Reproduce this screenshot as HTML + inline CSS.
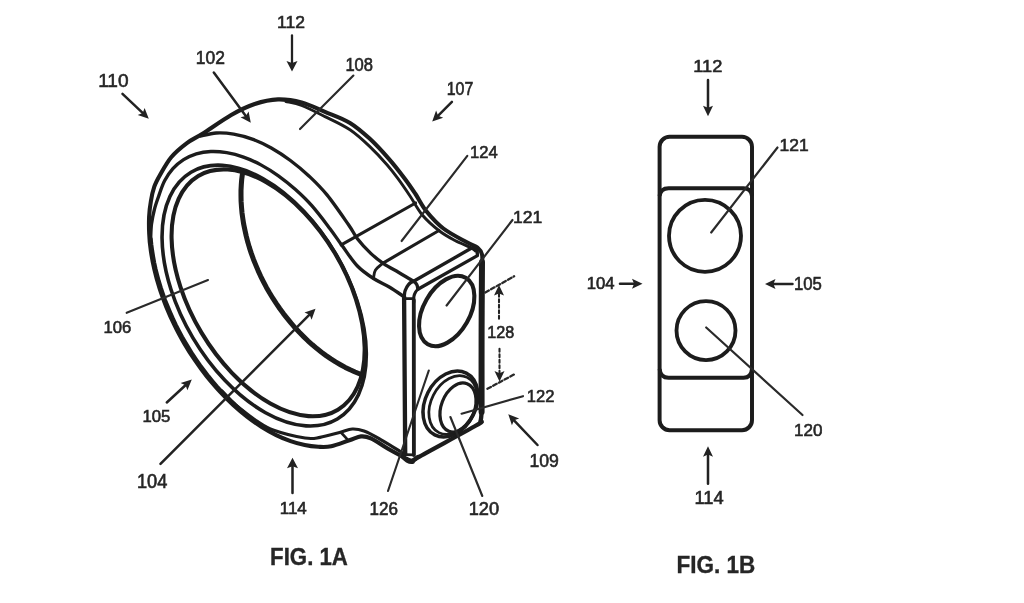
<!DOCTYPE html>
<html><head><meta charset="utf-8"><style>
html,body{margin:0;padding:0;background:#fff;width:1024px;height:603px;overflow:hidden}
svg{display:block;will-change:transform}
text{font-family:"Liberation Sans",sans-serif}
</style></head><body>
<svg width="1024" height="603" viewBox="0 0 1024 603">
<rect width="1024" height="603" fill="#ffffff"/>
<path d="M417.8 457.0 C416.8 457.6 414.4 460.9 412.0 460.9 C409.6 460.9 407.1 459.0 403.2 457.0 C399.3 455.0 393.9 452.2 388.5 449.1 C383.1 446.0 375.5 440.5 370.9 438.4 C366.3 436.3 364.6 436.1 361.0 436.4 C357.4 436.7 354.4 438.7 349.4 440.3 C344.4 441.9 336.4 445.2 331.2 446.3 C326.0 447.4 322.7 447.0 318.3 446.8 C313.9 446.6 309.3 446.1 304.7 445.1 C300.1 444.2 295.4 442.9 290.6 441.2 C285.8 439.5 281.0 437.5 276.2 435.1 C271.4 432.8 266.5 430.0 261.7 427.0 C256.9 423.9 252.0 420.6 247.3 416.9 C242.5 413.2 237.8 409.2 233.2 405.0 C228.6 400.7 224.1 396.2 219.7 391.4 C215.3 386.7 211.0 381.6 206.8 376.5 C202.7 371.3 198.7 365.8 194.9 360.2 C191.1 354.7 187.5 348.9 184.1 343.1 C180.7 337.2 177.4 331.2 174.5 325.1 C171.5 319.1 168.7 312.9 166.2 306.7 C163.8 300.5 161.5 294.3 159.5 288.1 C157.5 281.9 155.8 275.7 154.4 269.5 C152.9 263.4 151.8 257.3 150.9 251.3 C150.0 245.3 149.4 239.4 149.2 233.6 C148.9 227.9 148.9 222.2 149.1 216.8 C149.4 211.4 150.0 206.1 150.9 201.1 C151.7 196.1 152.8 191.1 154.3 186.7 C155.8 182.4 157.2 179.9 160.0 175.0 C162.8 170.1 166.8 162.5 171.2 157.2 C175.7 151.9 181.7 147.0 186.9 143.1 C192.1 139.2 195.1 138.4 202.5 133.8 C209.9 129.1 222.6 120.0 231.2 115.0 C239.9 110.0 246.9 106.6 254.7 104.0 C262.5 101.4 270.2 99.7 278.0 99.4 C285.8 99.2 293.8 100.4 301.6 102.5 C309.4 104.6 316.9 108.5 325.0 111.9 C333.1 115.3 342.6 118.5 350.0 122.9 C357.4 127.4 363.1 132.6 369.6 138.6 C376.1 144.6 383.2 152.4 389.1 159.1 C395.0 165.8 400.4 172.9 404.8 178.7 C409.2 184.5 411.9 188.6 415.5 194.0 C419.1 199.4 421.6 205.2 426.2 211.0 C430.9 216.8 436.6 223.3 443.4 228.5 C450.2 233.7 461.2 239.1 466.9 242.3 C472.6 245.5 475.0 245.5 477.5 247.5 C480.0 249.5 481.2 251.6 482.0 254.5 C482.8 257.4 482.0 263.2 482.0 265.0" stroke="#1c1c1c" stroke-width="4.08" fill="none" stroke-linecap="round" stroke-linejoin="round"/>
<path d="M151.2 238.8 L151.8 244.7 L152.6 250.6 L153.6 256.7 L154.7 262.8 L156.0 268.9 L157.6 275.1 L159.3 281.3 L161.2 287.5 L163.3 293.7 L165.5 300.0 L168.0 306.2 L170.6 312.4 L173.3 318.5 L176.2 324.6 L179.3 330.7 L182.5 336.7 L185.9 342.6 L189.4 348.4 L193.0 354.2 L196.8 359.8 L200.7 365.4 L204.7 370.8 L208.8 376.1 L213.0 381.2 L217.3 386.2 L221.7 391.0 L226.2 395.7 L230.7 400.2 L235.3 404.5 L240.0 408.6 L244.7 412.6" stroke="#1c1c1c" stroke-width="3.12" fill="none" stroke-linecap="round" stroke-linejoin="round"/>
<path d="M286.0 101.5 C288.6 102.2 295.1 103.0 301.6 105.5 C308.1 108.0 316.9 112.5 325.0 116.6 C333.1 120.6 342.6 124.8 350.0 129.8 C357.4 134.8 363.4 140.5 369.6 146.4 C375.8 152.3 382.5 159.6 387.2 165.0 C391.9 170.4 394.2 173.5 398.0 178.7 C401.8 183.9 405.9 189.9 410.0 196.0 C414.1 202.1 417.4 209.2 422.3 215.0 C427.2 220.8 434.1 226.8 439.5 231.0 C444.9 235.2 449.8 237.7 455.0 240.5 C460.2 243.3 467.4 245.8 470.8 247.6 C474.2 249.3 474.7 250.4 475.5 251.0" stroke="#1c1c1c" stroke-width="2.88" fill="none" stroke-linecap="round" stroke-linejoin="round"/>
<path d="M222.0 391.0 C223.5 392.6 228.0 397.6 231.0 400.5 C234.0 403.4 235.8 405.2 240.0 408.5 C244.2 411.8 250.4 416.9 256.0 420.5 C261.6 424.1 265.6 427.4 273.8 430.3 C281.9 433.2 297.3 436.8 305.0 438.0 C312.7 439.2 314.2 438.3 320.0 437.4 C325.8 436.5 334.2 433.9 339.6 432.5 C345.0 431.1 348.2 429.2 352.3 429.0 C356.4 428.8 359.6 429.4 364.0 431.0 C368.4 432.6 372.5 434.9 378.7 438.4 C384.9 441.9 396.8 449.4 401.2 452.0 C405.6 454.6 404.4 453.7 405.0 454.0" stroke="#1c1c1c" stroke-width="3.12" fill="none" stroke-linecap="round" stroke-linejoin="round"/>
<path d="M200.3 136.0 C203.0 135.5 210.7 133.4 216.2 133.0 C221.8 132.7 227.7 133.1 233.7 134.1 C239.7 135.1 245.9 136.8 252.2 139.1 C258.4 141.4 264.9 144.4 271.3 148.0 C277.6 151.6 284.1 155.8 290.4 160.5 C296.7 165.2 303.1 170.5 309.2 176.2 C315.3 182.0 320.4 186.8 327.0 194.9 C333.6 203.0 343.6 217.7 348.7 225.0 C353.8 232.3 353.7 233.9 357.4 238.7 C361.1 243.5 366.6 249.4 371.0 253.6 C375.4 257.8 378.9 260.5 383.5 263.6 C388.1 266.7 393.4 269.4 398.4 272.3 C403.4 275.2 410.8 279.6 413.3 281.0" stroke="#1c1c1c" stroke-width="3.36" fill="none" stroke-linecap="round" stroke-linejoin="round"/>
<path d="M150.6 240.0 C150.8 237.3 150.8 229.2 151.5 224.0 C152.2 218.8 153.3 213.7 154.5 209.0 C155.7 204.3 157.2 200.2 158.9 195.5 C160.5 190.8 162.3 185.2 164.6 180.8 C166.9 176.3 169.7 172.3 172.9 168.7 C176.1 165.2 179.7 162.2 183.6 159.7 C187.5 157.3 191.8 155.3 196.3 153.9 C200.8 152.6 205.7 151.8 210.8 151.5 C215.8 151.3 221.2 151.7 226.7 152.6 C232.1 153.5 237.8 155.0 243.5 157.1 C249.2 159.1 255.1 161.7 260.9 164.9 C266.7 168.0 272.6 171.7 278.4 175.8 C284.1 179.9 289.9 184.5 295.5 189.5 C301.1 194.5 306.1 199.1 311.8 205.7 C317.6 212.2 324.9 222.0 330.0 228.7 C335.1 235.4 337.8 239.9 342.4 246.1 C347.0 252.3 352.2 260.6 357.4 266.0 C362.6 271.4 368.1 275.0 373.5 278.5 C378.9 282.0 384.5 284.1 389.7 287.2 C394.9 290.3 402.1 295.5 404.6 297.1" stroke="#1c1c1c" stroke-width="3.36" fill="none" stroke-linecap="round" stroke-linejoin="round"/>
<ellipse cx="264.18" cy="295.62" rx="143.47" ry="82.85" transform="rotate(-120.66 264.18 295.62)" stroke="#1c1c1c" stroke-width="3.60" fill="none"/>
<ellipse cx="268.11" cy="292.80" rx="77.67" ry="136.11" transform="rotate(-30.87 268.11 292.80)" stroke="#1c1c1c" stroke-width="4.08" fill="none"/>
<path d="M242.4 174.2 L241.7 179.5 L241.3 184.8 L241.0 190.3 L241.0 195.8 L241.1 201.4 L241.5 207.1 L242.0 212.8 L242.8 218.5 L243.7 224.3 L244.9 230.1 L246.2 235.9 L247.7 241.8 L249.4 247.6 L251.3 253.4 L253.4 259.2 L255.7 264.9 L258.1 270.6 L260.7 276.3 L263.5 281.9 L266.4 287.4 L269.5 292.8 L272.8 298.2 L276.2 303.4 L279.7 308.5 L283.4 313.6 L287.2 318.4 L291.1 323.2 L295.1 327.8 L299.3 332.3 L303.6 336.6 L307.9 340.8 L312.4 344.8 L316.9 348.6 L321.5 352.2 L326.1 355.6 L330.9 358.9 L335.6 361.9 L340.5 364.7 L345.3 367.4 L350.2 369.8 L355.1 372.0 L360.0 374.0" stroke="#1c1c1c" stroke-width="5.04" fill="none" stroke-linecap="round" stroke-linejoin="round"/>
<path d="M482.0 262.0 C481.9 273.3 481.7 305.0 481.6 330.0 C481.5 355.0 481.6 398.3 481.6 412.0" stroke="#1c1c1c" stroke-width="6.00" fill="none" stroke-linecap="round" stroke-linejoin="round"/>
<path d="M481.6 412.0 C481.4 413.5 481.4 418.8 480.5 421.0 C479.6 423.2 486.4 419.4 476.0 425.5 C465.6 431.6 428.6 451.3 418.0 457.4 C407.4 463.4 414.3 461.3 412.5 461.8 C410.7 462.3 409.1 461.7 407.2 460.6 C405.3 459.5 402.0 455.9 401.0 455.0" stroke="#1c1c1c" stroke-width="4.32" fill="none" stroke-linecap="round" stroke-linejoin="round"/>
<line x1="405.6" y1="454.6" x2="413.9" y2="454.9" stroke="#1c1c1c" stroke-width="2.64" stroke-linecap="round"/>
<path d="M404.1 298.0 C404.3 324.0 405.0 428.0 405.2 454.0" stroke="#1c1c1c" stroke-width="4.32" fill="none" stroke-linecap="round" stroke-linejoin="round"/>
<path d="M413.8 300.0 C413.8 325.8 413.9 429.2 413.9 455.0" stroke="#1c1c1c" stroke-width="3.84" fill="none" stroke-linecap="round" stroke-linejoin="round"/>
<path d="M404.0 302.0 C404.1 301.0 404.1 297.9 404.3 296.0 C404.5 294.1 404.5 292.4 405.2 290.5 C405.9 288.6 407.2 286.1 408.5 284.6 C409.8 283.1 411.8 281.5 413.2 281.5 C414.6 281.5 416.0 283.3 416.8 284.6 C417.6 285.9 417.7 288.4 417.9 289.2" stroke="#1c1c1c" stroke-width="3.36" fill="none" stroke-linecap="round" stroke-linejoin="round"/>
<path d="M417.9 289.2 C417.5 289.7 416.3 290.8 415.6 292.0 C414.9 293.2 414.2 294.8 413.9 296.5 C413.6 298.2 413.8 301.1 413.8 302.0" stroke="#1c1c1c" stroke-width="3.12" fill="none" stroke-linecap="round" stroke-linejoin="round"/>
<line x1="404.2" y1="298.6" x2="413.6" y2="298.6" stroke="#1c1c1c" stroke-width="2.64" stroke-linecap="round"/>
<path d="M413.2 281.5 L471.2 248.3 Q475.6 246.8 477.2 251.5 L477.4 255.6 L417.9 289.2" stroke="#1c1c1c" stroke-width="3.36" fill="none" stroke-linejoin="round"/>
<line x1="341.2" y1="244.9" x2="415.6" y2="203.0" stroke="#1c1c1c" stroke-width="3.12" stroke-linecap="round"/>
<line x1="383.5" y1="262.8" x2="439.0" y2="230.5" stroke="#1c1c1c" stroke-width="3.12" stroke-linecap="round"/>
<path d="M373.5 278.0 C373.8 276.7 373.9 272.5 375.5 270.0 C377.1 267.5 381.8 264.2 383.0 263.0" stroke="#1c1c1c" stroke-width="2.88" fill="none" stroke-linecap="round" stroke-linejoin="round"/>
<line x1="341.5" y1="433.0" x2="347.4" y2="439.4" stroke="#1c1c1c" stroke-width="2.64" stroke-linecap="round"/>
<ellipse cx="446.7" cy="311" rx="23.2" ry="38.2" transform="rotate(29.8 446.7 311)" stroke="#1c1c1c" stroke-width="4.08" fill="none"/>
<ellipse cx="450.5" cy="404" rx="25.3" ry="34.7" transform="rotate(27 450.5 404)" stroke="#1c1c1c" stroke-width="3.48" fill="none"/>
<ellipse cx="453" cy="405" rx="22" ry="31" transform="rotate(27 453 405)" stroke="#1c1c1c" stroke-width="2.76" fill="none"/>
<ellipse cx="458" cy="407.5" rx="16.7" ry="25.4" transform="rotate(21 458 407.5)" stroke="#1c1c1c" stroke-width="3.24" fill="none"/>
<line x1="122.5" y1="93.8" x2="144.2" y2="114.4" stroke="#222222" stroke-width="2.52" stroke-linecap="round"/>
<path d="M148.8 118.8L137.7 115.1L142.7 113.0L144.6 107.9Z" fill="#222222"/>
<line x1="213.8" y1="72.5" x2="247.1" y2="117.7" stroke="#222222" stroke-width="2.52" stroke-linecap="round"/>
<path d="M250.8 122.8L240.5 117.3L245.8 116.0L248.6 111.4Z" fill="#222222"/>
<line x1="292.0" y1="35.5" x2="292.0" y2="65.2" stroke="#222222" stroke-width="2.28" stroke-linecap="round"/>
<path d="M292.0 71.5L286.5 61.0L292.0 63.1L297.5 61.0Z" fill="#222222"/>
<line x1="353.4" y1="75.6" x2="300.0" y2="129.0" stroke="#2a2a2a" stroke-width="2.16" stroke-linecap="round"/>
<line x1="451.9" y1="101.9" x2="436.7" y2="117.1" stroke="#222222" stroke-width="2.52" stroke-linecap="round"/>
<path d="M432.2 121.6L436.1 110.6L438.1 115.7L443.2 117.7Z" fill="#222222"/>
<line x1="467.3" y1="155.8" x2="401.6" y2="241.0" stroke="#2a2a2a" stroke-width="2.16" stroke-linecap="round"/>
<line x1="512.5" y1="220.0" x2="446.6" y2="305.5" stroke="#2a2a2a" stroke-width="2.16" stroke-linecap="round"/>
<line x1="126.7" y1="312.8" x2="208.0" y2="280.0" stroke="#2a2a2a" stroke-width="2.16" stroke-linecap="round"/>
<line x1="166.8" y1="402.5" x2="187.1" y2="383.8" stroke="#222222" stroke-width="2.52" stroke-linecap="round"/>
<path d="M191.8 379.5L187.4 390.3L185.6 385.2L180.6 382.9Z" fill="#222222"/>
<line x1="160.5" y1="463.8" x2="311.0" y2="313.2" stroke="#222222" stroke-width="2.52" stroke-linecap="round"/>
<path d="M315.5 308.8L311.6 319.7L309.6 314.7L304.5 312.6Z" fill="#222222"/>
<line x1="292.5" y1="493.0" x2="292.5" y2="464.1" stroke="#222222" stroke-width="2.52" stroke-linecap="round"/>
<path d="M292.5 457.8L298.0 468.3L292.5 466.2L287.0 468.3Z" fill="#222222"/>
<line x1="428.8" y1="370.5" x2="388.0" y2="491.0" stroke="#2a2a2a" stroke-width="2.16" stroke-linecap="round"/>
<line x1="450.4" y1="417.0" x2="482.3" y2="496.0" stroke="#2a2a2a" stroke-width="2.16" stroke-linecap="round"/>
<line x1="461.6" y1="413.7" x2="523.0" y2="396.2" stroke="#2a2a2a" stroke-width="2.16" stroke-linecap="round"/>
<line x1="537.5" y1="445.0" x2="512.6" y2="418.8" stroke="#222222" stroke-width="2.52" stroke-linecap="round"/>
<path d="M508.3 414.2L519.2 418.4L514.1 420.3L511.9 425.3Z" fill="#222222"/>
<line x1="485.3" y1="292.5" x2="514.1" y2="276.3" stroke="#2a2a2a" stroke-width="2.28" stroke-linecap="round" stroke-dasharray="4 2.5"/>
<line x1="487.4" y1="388.8" x2="515.3" y2="373.8" stroke="#2a2a2a" stroke-width="2.28" stroke-linecap="round" stroke-dasharray="4 2.5"/>
<line x1="499.0" y1="318.8" x2="499.0" y2="291.3" stroke="#222222" stroke-width="2.04" stroke-linecap="round" stroke-dasharray="3 2.5"/>
<path d="M499.0 285.0L504.0 295.5L499.0 293.4L494.0 295.5Z" fill="#222222"/>
<line x1="499.5" y1="348.8" x2="499.5" y2="375.3" stroke="#222222" stroke-width="2.04" stroke-linecap="round" stroke-dasharray="3 2.5"/>
<path d="M499.5 381.6L494.5 371.1L499.5 373.2L504.5 371.1Z" fill="#222222"/>
<rect x="659.6" y="136.8" width="92.4" height="293.4" rx="10" stroke="#1c1c1c" stroke-width="3.96" fill="none"/>
<path d="M659.6 196 Q660.5 188.2 668.6 188.2 L743.5 188.2 Q751.2 188.2 752 196" stroke="#1c1c1c" stroke-width="3.96" fill="none"/>
<path d="M659.6 369 Q660.5 377.8 668.6 377.8 L743.5 377.8 Q751.2 377.8 752 369" stroke="#1c1c1c" stroke-width="3.96" fill="none"/>
<circle cx="705" cy="235.8" r="36" stroke="#1c1c1c" stroke-width="3.84" fill="none"/>
<circle cx="706" cy="330.6" r="29.5" stroke="#1c1c1c" stroke-width="3.84" fill="none"/>
<line x1="711.2" y1="232.5" x2="777.5" y2="147.5" stroke="#2a2a2a" stroke-width="2.16" stroke-linecap="round"/>
<line x1="706.2" y1="327.5" x2="802.5" y2="415.0" stroke="#2a2a2a" stroke-width="2.16" stroke-linecap="round"/>
<line x1="708.0" y1="80.0" x2="708.0" y2="110.0" stroke="#222222" stroke-width="2.52" stroke-linecap="round"/>
<path d="M708.0 116.2L703.0 105.8L708.0 107.8L713.0 105.8Z" fill="#222222"/>
<line x1="708.0" y1="483.8" x2="708.0" y2="452.6" stroke="#222222" stroke-width="2.52" stroke-linecap="round"/>
<path d="M708.0 446.2L713.0 456.8L708.0 454.6L703.0 456.8Z" fill="#222222"/>
<line x1="620.0" y1="283.8" x2="636.2" y2="283.8" stroke="#222222" stroke-width="2.52" stroke-linecap="round"/>
<path d="M642.5 283.8L632.0 288.8L634.1 283.8L632.0 278.8Z" fill="#222222"/>
<line x1="792.5" y1="284.0" x2="771.3" y2="284.0" stroke="#222222" stroke-width="2.52" stroke-linecap="round"/>
<path d="M765.0 284.0L775.5 279.0L773.4 284.0L775.5 289.0Z" fill="#222222"/>
<text x="98.2" y="87.2" font-size="18.60" textLength="30.4" lengthAdjust="spacingAndGlyphs" fill="#262626" stroke="#262626" stroke-width="0.60">110</text>
<text x="195.8" y="64.2" font-size="17.91" textLength="29.1" lengthAdjust="spacingAndGlyphs" fill="#262626" stroke="#262626" stroke-width="0.60">102</text>
<text x="277.0" y="27.7" font-size="16.86" textLength="27.9" lengthAdjust="spacingAndGlyphs" fill="#262626" stroke="#262626" stroke-width="0.60">112</text>
<text x="345.4" y="70.6" font-size="17.70" textLength="27.6" lengthAdjust="spacingAndGlyphs" fill="#262626" stroke="#262626" stroke-width="0.60">108</text>
<text x="446.7" y="95.0" font-size="17.70" textLength="26.6" lengthAdjust="spacingAndGlyphs" fill="#262626" stroke="#262626" stroke-width="0.60">107</text>
<text x="470.0" y="157.8" font-size="16.86" textLength="27.7" lengthAdjust="spacingAndGlyphs" fill="#262626" stroke="#262626" stroke-width="0.60">124</text>
<text x="512.9" y="222.7" font-size="16.86" textLength="29.3" lengthAdjust="spacingAndGlyphs" fill="#262626" stroke="#262626" stroke-width="0.60">121</text>
<text x="103.5" y="332.8" font-size="17.28" textLength="27.8" lengthAdjust="spacingAndGlyphs" fill="#262626" stroke="#262626" stroke-width="0.60">106</text>
<text x="487.3" y="338.3" font-size="16.16" textLength="27.0" lengthAdjust="spacingAndGlyphs" fill="#262626" stroke="#262626" stroke-width="0.60">128</text>
<text x="526.7" y="402.4" font-size="17.14" textLength="27.7" lengthAdjust="spacingAndGlyphs" fill="#262626" stroke="#262626" stroke-width="0.60">122</text>
<text x="142.5" y="422.2" font-size="16.86" textLength="27.9" lengthAdjust="spacingAndGlyphs" fill="#262626" stroke="#262626" stroke-width="0.60">105</text>
<text x="529.5" y="467.2" font-size="18.25" textLength="29.4" lengthAdjust="spacingAndGlyphs" fill="#262626" stroke="#262626" stroke-width="0.60">109</text>
<text x="136.9" y="487.7" font-size="19.30" textLength="30.4" lengthAdjust="spacingAndGlyphs" fill="#262626" stroke="#262626" stroke-width="0.60">104</text>
<text x="279.8" y="513.9" font-size="16.16" textLength="27.0" lengthAdjust="spacingAndGlyphs" fill="#262626" stroke="#262626" stroke-width="0.60">114</text>
<text x="369.4" y="514.7" font-size="17.70" textLength="28.5" lengthAdjust="spacingAndGlyphs" fill="#262626" stroke="#262626" stroke-width="0.60">126</text>
<text x="468.7" y="514.7" font-size="17.70" textLength="30.4" lengthAdjust="spacingAndGlyphs" fill="#262626" stroke="#262626" stroke-width="0.60">120</text>
<text x="270.1" y="565.2" font-size="24.06" textLength="77.8" lengthAdjust="spacingAndGlyphs" font-weight="bold" fill="#262626" stroke="#262626" stroke-width="0.35">FIG. 1A</text>
<text x="693.2" y="72.2" font-size="16.86" textLength="29.1" lengthAdjust="spacingAndGlyphs" fill="#262626" stroke="#262626" stroke-width="0.60">112</text>
<text x="779.5" y="150.9" font-size="16.86" textLength="29.1" lengthAdjust="spacingAndGlyphs" fill="#262626" stroke="#262626" stroke-width="0.60">121</text>
<text x="586.8" y="288.7" font-size="15.74" textLength="27.8" lengthAdjust="spacingAndGlyphs" fill="#262626" stroke="#262626" stroke-width="0.60">104</text>
<text x="794.0" y="290.2" font-size="17.56" textLength="27.9" lengthAdjust="spacingAndGlyphs" fill="#262626" stroke="#262626" stroke-width="0.60">105</text>
<text x="794.0" y="435.9" font-size="16.86" textLength="28.4" lengthAdjust="spacingAndGlyphs" fill="#262626" stroke="#262626" stroke-width="0.60">120</text>
<text x="694.5" y="503.7" font-size="17.56" textLength="29.1" lengthAdjust="spacingAndGlyphs" fill="#262626" stroke="#262626" stroke-width="0.60">114</text>
<text x="676.6" y="572.6" font-size="23.33" textLength="78.7" lengthAdjust="spacingAndGlyphs" font-weight="bold" fill="#262626" stroke="#262626" stroke-width="0.35">FIG. 1B</text>
</svg>
</body></html>
